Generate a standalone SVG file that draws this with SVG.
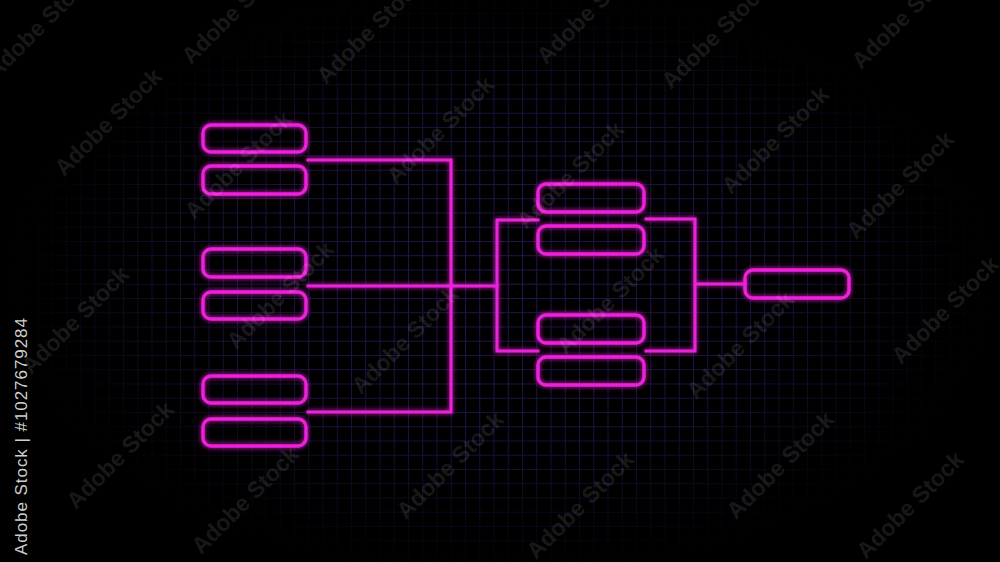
<svg xmlns="http://www.w3.org/2000/svg" width="1000" height="562" viewBox="0 0 1000 562">
  <style>
    .box { fill: none; stroke: #ea20d8; stroke-width: 3.4; filter: url(#glow); }
    .wire { fill: none; stroke: #ea20d8; stroke-width: 3; stroke-linecap: square; filter: url(#glow); }
    .wm { font-family: "Liberation Sans", Arial, sans-serif; font-weight: bold; font-size: 23px; fill: #ffffff; fill-opacity: 0.11; text-anchor: middle; }
    .id { font-family: "Liberation Sans", Arial, sans-serif; font-size: 17px; fill: #cfcfcf; }
  </style>
  <defs>
    <pattern id="grid" patternUnits="userSpaceOnUse" x="9" y="13" width="14.25" height="14.25">
      <path d="M0 0.5 H14.25 M0.5 0 V14.25" stroke="#26154f" stroke-width="1" fill="none"/>
    </pattern>
    <radialGradient id="fade" cx="500" cy="281" r="540" gradientUnits="userSpaceOnUse" gradientTransform="translate(500 281) scale(1 0.6) translate(-500 -281)">
      <stop offset="0" stop-color="#fff" stop-opacity="1"/>
      <stop offset="0.5" stop-color="#fff" stop-opacity="0.8"/>
      <stop offset="0.75" stop-color="#fff" stop-opacity="0.3"/>
      <stop offset="0.92" stop-color="#fff" stop-opacity="0"/>
    </radialGradient>
    <mask id="vignette">
      <rect width="1000" height="562" fill="url(#fade)"/>
    </mask>
    <filter id="glow" x="-20%" y="-60%" width="140%" height="220%">
      <feGaussianBlur in="SourceGraphic" stdDeviation="2.4" result="b"/>
      <feMerge>
        <feMergeNode in="b"/>
        <feMergeNode in="SourceGraphic"/>
      </feMerge>
    </filter>
  </defs>

  <rect width="1000" height="562" fill="#000"/>
  <rect width="1000" height="562" fill="url(#grid)" mask="url(#vignette)"/>

  <g id="connectors">
    <path class="wire" d="M308 160 H451 M308 286 H497 M308 412 H451 M451 160 V412"/>
    <path class="wire" d="M497 220 V351 M497 220 H538 M497 351 H538"/>
    <path class="wire" d="M646 219 H695 M646 351 H695 M695 219 V351 M695 284 H745"/>
  </g>

  <g id="r1-a"><rect class="box" x="203" y="125" width="103" height="27" rx="8"/></g>
  <g id="r1-b"><rect class="box" x="203" y="166" width="103" height="28" rx="8"/></g>
  <g id="r1-c"><rect class="box" x="203" y="249" width="103" height="28" rx="8"/></g>
  <g id="r1-d"><rect class="box" x="203" y="292" width="103" height="27" rx="8"/></g>
  <g id="r1-e"><rect class="box" x="203" y="376" width="103" height="27" rx="8"/></g>
  <g id="r1-f"><rect class="box" x="203" y="419" width="103" height="27" rx="8"/></g>

  <g id="r2-a"><rect class="box" x="538" y="184" width="106" height="28" rx="8"/></g>
  <g id="r2-b"><rect class="box" x="538" y="226" width="106" height="28" rx="8"/></g>
  <g id="r2-c"><rect class="box" x="538" y="315" width="106" height="28" rx="8"/></g>
  <g id="r2-d"><rect class="box" x="538" y="357" width="106" height="28" rx="8"/></g>

  <g id="final"><rect class="box" x="745" y="270" width="104" height="28" rx="8"/></g>

  <g id="watermarks">
    <text class="wm" transform="rotate(-45 40 25)" x="40" y="33">Adobe Stock</text>
    <text class="wm" transform="rotate(-45 108 122)" x="108" y="130">Adobe Stock</text>
    <text class="wm" transform="rotate(-45 238 165)" x="238" y="173">Adobe Stock</text>
    <text class="wm" transform="rotate(-45 235 10)" x="235" y="18">Adobe Stock</text>
    <text class="wm" transform="rotate(-45 370 30)" x="370" y="38">Adobe Stock</text>
    <text class="wm" transform="rotate(-45 440 130)" x="440" y="138">Adobe Stock</text>
    <text class="wm" transform="rotate(-45 570 175)" x="570" y="183">Adobe Stock</text>
    <text class="wm" transform="rotate(-45 590 10)" x="590" y="18">Adobe Stock</text>
    <text class="wm" transform="rotate(-45 715 35)" x="715" y="43">Adobe Stock</text>
    <text class="wm" transform="rotate(-45 775 140)" x="775" y="148">Adobe Stock</text>
    <text class="wm" transform="rotate(-45 900 185)" x="900" y="193">Adobe Stock</text>
    <text class="wm" transform="rotate(-45 905 15)" x="905" y="23">Adobe Stock</text>
    <text class="wm" transform="rotate(-45 75 320)" x="75" y="328">Adobe Stock</text>
    <text class="wm" transform="rotate(-45 280 295)" x="280" y="303">Adobe Stock</text>
    <text class="wm" transform="rotate(-45 405 340)" x="405" y="348">Adobe Stock</text>
    <text class="wm" transform="rotate(-45 610 300)" x="610" y="308">Adobe Stock</text>
    <text class="wm" transform="rotate(-45 740 345)" x="740" y="353">Adobe Stock</text>
    <text class="wm" transform="rotate(-45 945 310)" x="945" y="318">Adobe Stock</text>
    <text class="wm" transform="rotate(-45 120 455)" x="120" y="463">Adobe Stock</text>
    <text class="wm" transform="rotate(-45 245 500)" x="245" y="508">Adobe Stock</text>
    <text class="wm" transform="rotate(-45 450 465)" x="450" y="473">Adobe Stock</text>
    <text class="wm" transform="rotate(-45 580 505)" x="580" y="513">Adobe Stock</text>
    <text class="wm" transform="rotate(-45 780 465)" x="780" y="473">Adobe Stock</text>
    <text class="wm" transform="rotate(-45 910 505)" x="910" y="513">Adobe Stock</text>
  </g>

  <text class="id" x="27" y="555" transform="rotate(-90 27 555)" textLength="237" lengthAdjust="spacing">Adobe Stock | #1027679284</text>
</svg>
